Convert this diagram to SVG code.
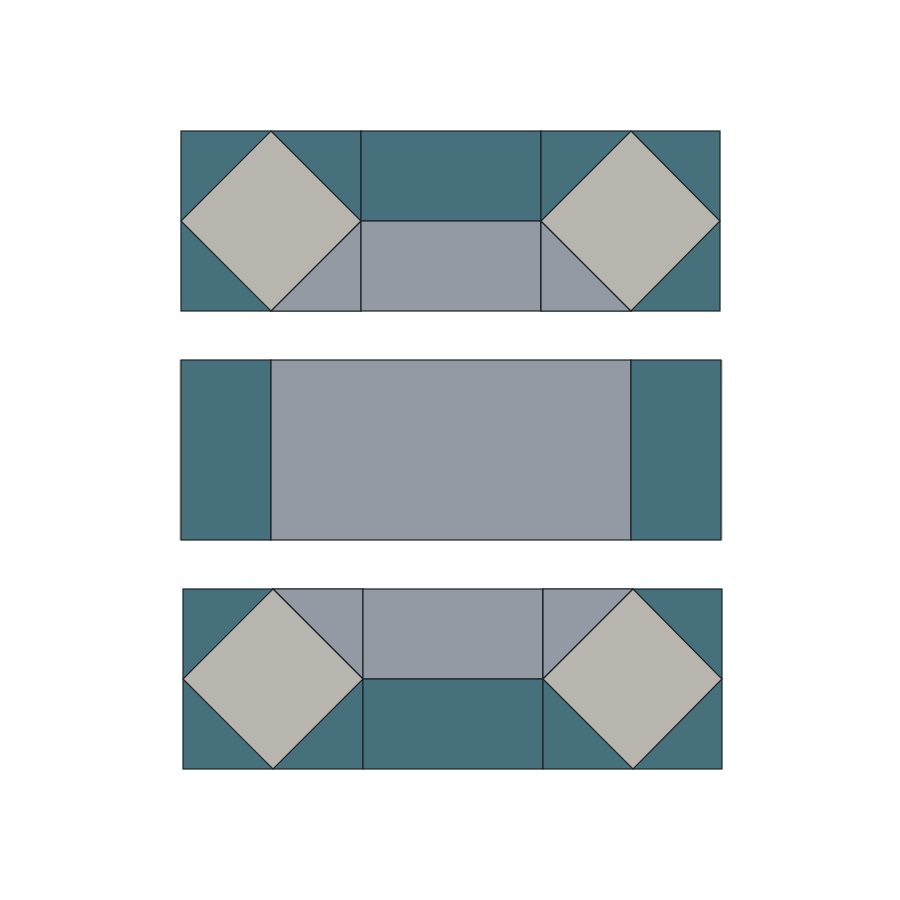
<svg xmlns="http://www.w3.org/2000/svg" width="900" height="900" viewBox="0 0 900 900">
<style>
.t{fill:#47707d}
.g{fill:#939aa4}
.d{fill:#b8b5af}
.p{stroke:#1c2226;stroke-width:1.2;stroke-linejoin:miter}
.edge{fill:none;stroke:#bdbab5;stroke-width:1.2}
</style>
<g id="row-top">
  <g id="top-left-block">
    <rect class="p t" x="181" y="131" width="180" height="180"/>
    <polygon class="p g" points="271,311 361,221 361,311"/>
    <polygon class="p d" points="271,131 361,221 271,311 181,221"/>
  </g>
  <g id="top-middle-block">
    <rect class="p t" x="361" y="131" width="180" height="90"/>
    <rect class="p g" x="361" y="221" width="180" height="90"/>
  </g>
  <g id="top-right-block">
    <rect class="p t" x="541" y="131" width="179" height="180"/>
    <polygon class="p g" points="541,221 631,311 541,311"/>
    <polygon class="p d" points="631,131 720,221 631,311 541,221"/>
  </g>
</g>
<g id="row-middle">
  <line class="edge" x1="180" y1="360" x2="180" y2="540"/>
  <line class="edge" x1="722" y1="360" x2="722" y2="540"/>
  <g id="mid-left-strip"><rect class="p t" x="181" y="360" width="90" height="180"/></g>
  <g id="mid-center"><rect class="p g" x="271" y="360" width="360" height="180"/></g>
  <g id="mid-right-strip"><rect class="p t" x="631" y="360" width="90" height="180"/></g>
</g>
<g id="row-bottom">
  <g id="bottom-left-block">
    <rect class="p t" x="183" y="589" width="180" height="180"/>
    <polygon class="p g" points="273,589 363,589 363,679"/>
    <polygon class="p d" points="273,589 363,679 273,769 183,679"/>
  </g>
  <g id="bottom-middle-block">
    <rect class="p g" x="363" y="589" width="180" height="90"/>
    <rect class="p t" x="363" y="679" width="180" height="90"/>
  </g>
  <g id="bottom-right-block">
    <rect class="p t" x="543" y="589" width="179" height="180"/>
    <polygon class="p g" points="543,589 633,589 543,679"/>
    <polygon class="p d" points="633,589 722,679 633,769 543,679"/>
  </g>
</g>
</svg>
